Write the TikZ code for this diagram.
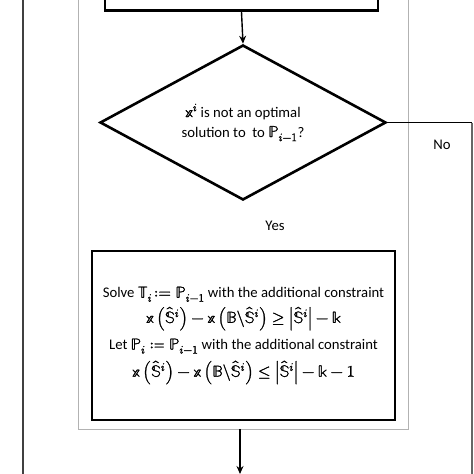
\documentclass[tikz,border=0pt]{standalone}
\usepackage{fontspec}
\usepackage{unicode-math}
\setmainfont{Carlito}
\setmathfont{Latin Modern Math}[Scale=1.1, FakeBold=1.5]
\usetikzlibrary{shapes.geometric,arrows.meta}
\tikzset{
  thickbox/.style={draw=black, line width=2.8pt, rectangle, inner sep=0pt},
  decision/.style={draw=black, line width=2.6pt, diamond, inner sep=0pt, aspect=1.845,
    minimum width=286pt, minimum height=155pt, align=center},
  flow/.style={draw=black, line width=1.4pt, -{Stealth[length=8pt,width=7pt]}},
  lbl/.style={font=\fontsize{14.7}{17}\selectfont},
}
\begin{document}
\begin{tikzpicture}[x=1pt,y=-1pt,font=\fontsize{14.7}{17}\selectfont]
\useasboundingbox (0,0) rectangle (474,474);
% outer lines
\draw[line width=1.5pt, black!75] (23,-5) -- (23,479);
\draw[line width=0.9pt, black!30] (78,-10) rectangle (408,429);
% top box
\node[thickbox, minimum width=273pt, minimum height=44pt, anchor=south] (top) at (241.5,12) {};
% decision
\node[decision] (dec) at (243,122.5)
  {$\mathbb{x}^{i}$ is not an optimal\\[3pt] solution to \ to $\mathbb{P}_{i-1}$?};
% bottom box
\node[thickbox, minimum width=303pt, minimum height=169pt, align=center] (act) at (243.5,335.5)
  {Solve $\mathbb{T}_{i}\!:=\mathbb{P}_{i-1}$ with the additional constraint\\[4pt]
   $\mathbb{x}\left(\hat{\mathbb{S}}^{i}\right)-\mathbb{x}\left(\mathbb{B}\backslash\hat{\mathbb{S}}^{i}\right)\geq\left|\hat{\mathbb{S}}^{i}\right|-\mathbb{k}$\\[7pt]
   Let $\mathbb{P}_{i}\coloneq\mathbb{P}_{i-1}$ with the additional constraint\\[6pt]
   $\mathbb{x}\left(\hat{\mathbb{S}}^{i}\right)-\mathbb{x}\left(\mathbb{B}\backslash\hat{\mathbb{S}}^{i}\right)\leq\left|\hat{\mathbb{S}}^{i}\right|-\mathbb{k}-1$};
% labels
\node[lbl] (yes) at (275,226) {Yes};
\node[lbl] (no) at (442,145) {No};
% connectors
\draw[flow] (top.south) -- (dec.north);
\coordinate (rc) at (472,122.5);
\coordinate (rb) at (472,479);
\draw[line width=0.9pt, black] (dec.east) -- (rc);
\draw[line width=2pt, black!60] (rc) -- (rb);
\coordinate (ob) at (240,429);
\coordinate (oe) at (240,474);
\draw[flow] (ob) -- (oe);
\end{tikzpicture}
\end{document}
